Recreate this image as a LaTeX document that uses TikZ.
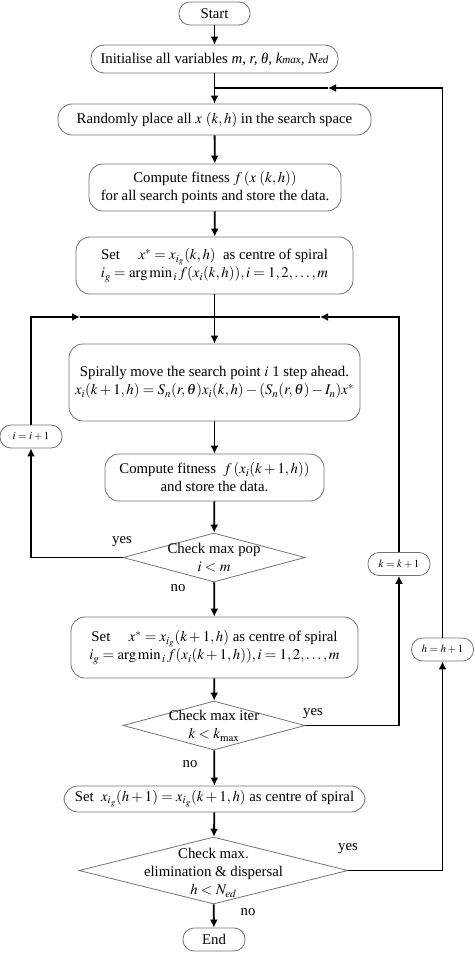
\documentclass[tikz,border=0pt]{standalone}
\usepackage{mathptmx}
\usepackage{fontspec}
\setmainfont{Liberation Serif}
\usetikzlibrary{shapes.geometric,arrows.meta}

\tikzstyle{box} = [draw=gray!90!black, line width=0.8pt, rounded corners=14pt, align=center, inner sep=0pt]
\tikzstyle{term} = [box, rounded corners=11pt]
\tikzstyle{incbox} = [box, rounded corners=11pt, minimum width=62pt, minimum height=23pt, font=\fontsize{11}{13}\selectfont]
\tikzstyle{decision} = [diamond, draw=gray!90!black, line width=0.8pt, inner sep=0pt]
\tikzstyle{dtext} = [align=center, inner sep=0pt]
\tikzstyle{arrow} = [line width=1.8pt,-{Latex[length=8pt,width=8pt]}]
\tikzstyle{line} = [line width=1.8pt]
\tikzstyle{lab} = [inner sep=0pt]

\begin{document}
\begin{tikzpicture}[x=1pt, y=-1pt, font=\fontsize{14.8}{18}\selectfont]
\useasboundingbox (0,0) rectangle (474,976);

% main column
\node[term, minimum width=71pt, minimum height=23pt] (start) at (214.5,13.5) {Start};
\node[box, rounded corners=13pt, minimum width=247pt, minimum height=28pt] (init) at (214.5,59) {Initialise all variables \textit{m, r, θ, k{\fontsize{11}{13}\selectfont max}, N{\fontsize{11}{13}\selectfont ed}}};
\node[box, minimum width=313pt, minimum height=31pt] (place) at (214.5,119.5) {Randomly place all $x$ $(k,h)$ in the search space};
\node[box, minimum width=252pt, minimum height=47pt] (fit) at (215,187.5) {Compute fitness $f\,(x\;(k,h))$\\for all search points and store the data.};
\node[box, minimum width=277pt, minimum height=57pt] (centre) at (214.5,265.5) {Set \quad $x^{*}=x_{i_g}(k,h)$ \ as centre of spiral\\$i_g=\arg\min\nolimits_{\,i} f(x_i(k,h)), i=1,2,\ldots,m$};
\node[box, minimum width=291pt, minimum height=77pt] (spiral) at (214.5,382.5) {Spirally move the search point $i$ 1 step ahead.\\$x_i(k+1,h)=S_n(r,\theta)x_i(k,h)-(S_n(r,\theta)-I_n)x^{*}$};
\node[box, minimum width=219pt, minimum height=47pt] (fitb) at (214.5,477.5) {Compute fitness \ $f\,(x_i(k+1,h))$\\and store the data.};
\node[decision, minimum width=182pt, minimum height=49pt] (pop) at (214,557.5) {};
\node[dtext] (poptxt) at (214,557.5) {Check max pop\\$i<m$};
\node[box, minimum width=287pt, minimum height=61pt] (centreb) at (214.5,647.5) {Set \quad $x^{*}=x_{i_g}(k+1,h)$ as centre of spiral\\$i_g=\arg\min\nolimits_{\,i} f(x_i(k+1,h)), i=1,2,\ldots,m$};
\node[decision, minimum width=182pt, minimum height=49pt] (iter) at (214,725.5) {};
\node[dtext] (itertxt) at (214,726) {Check max iter\\$k<k_{\max}$};
\node[box, minimum width=301pt, minimum height=26pt] (centrec) at (214.5,799) {Set \ $x_{i_g}(h+1)=x_{i_g}(k+1,h)$ as centre of spiral};
\node[decision, minimum width=269pt, minimum height=67pt] (disp) at (213.5,870.5) {};
\node[dtext] (disptxt) at (213.5,873) {Check max.\\elimination \& dispersal\\$h<N_{ed}$};
\node[term, minimum width=62pt, minimum height=23pt] (end) at (214,939.5) {End};

% counters
\node[incbox] (inci) at (31,436.5) {$i=i+1$};
\node[incbox] (inck) at (399,564) {$k=k+1$};
\node[incbox] (inch) at (442.5,649.5) {$h=h+1$};

% joins
\coordinate (jtop) at (214.5,88);
\coordinate (jtopr) at (328,88);
\coordinate (jmid) at (214.5,317);
\coordinate (jmidl) at (80,317);
\coordinate (jmidr) at (320,317);

\draw [arrow] (start) -- (init);
\draw [arrow] (init) -- (place); % through top join
\draw [arrow] (place) -- (fit);
\draw [arrow] (fit) -- (centre);
\draw [arrow] (centre) -- (spiral); % through middle join
\draw [arrow] (spiral) -- (fitb);
\draw [arrow] (fitb) -- (pop);
\draw [arrow] (pop) -- (centreb);
\draw [arrow] (centreb) -- (iter);
\draw [arrow] (iter) -- (centrec);
\draw [arrow] (centrec) -- (disp);
\draw [arrow] (disp) -- (end);

\draw [arrow] (pop.west) -| (inci.south); % yes pop
\draw [arrow] (inci.north) |- (jmidl);
\draw [line] (jmidl) -- (jmid);

\draw [arrow] (iter.east) -| (inck.south); % yes iter
\draw [arrow] (inck.north) |- (jmidr);
\draw [line] (jmidr) -- (jmid);

\draw [arrow] (disp.east) -| (inch.south); % yes disp
\draw [arrow] (inch.north) |- (jtopr);
\draw [line] (jtopr) -- (jtop);

% labels
\node[lab] (yespop) at (122,542) {yes};
\node[lab] (nopop) at (178,588) {no};
\node[lab] (yesiter) at (313,714) {yes};
\node[lab] (noiter) at (190,764) {no};
\node[lab] (yesdisp) at (348,849) {yes};
\node[lab] (nodisp) at (248,912) {no};

\end{tikzpicture}
\end{document}
